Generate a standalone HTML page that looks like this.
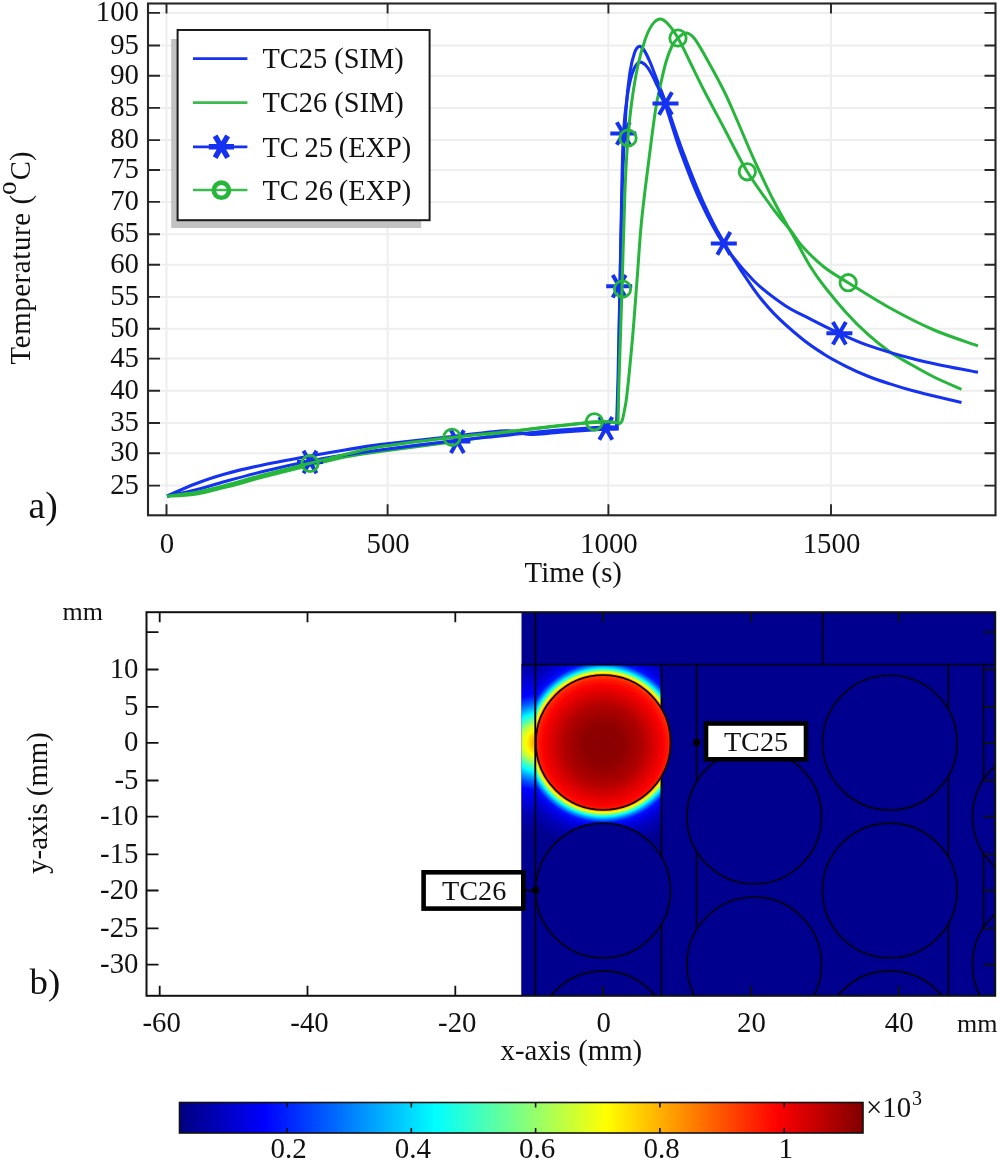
<!DOCTYPE html>
<html lang="en"><head><meta charset="utf-8"><title>Figure</title>
<style>html,body{margin:0;padding:0;background:#fff}svg{display:block}text{font-family:"Liberation Serif","Times New Roman",serif;fill:#111}</style></head><body>
<svg width="1000" height="1160" viewBox="0 0 1000 1160">
<rect width="1000" height="1160" fill="#fff"/>
<path d="M148.0 485.6H995.5M148.0 453.3H995.5M148.0 423.0H995.5M148.0 390.7H995.5M148.0 358.6H995.5M148.0 328.8H995.5M148.0 296.9H995.5M148.0 264.7H995.5M148.0 234.2H995.5M148.0 201.9H995.5M148.0 170.0H995.5M148.0 140.1H995.5M148.0 107.9H995.5M148.0 75.7H995.5M148.0 45.5H995.5M148.0 12.9H995.5M166.5 3.5V515.3M387.6 3.5V515.3M608.4 3.5V515.3M831.0 3.5V515.3" stroke="#eeeeee" stroke-width="2" fill="none"/>
<rect x="171.2" y="39" width="250" height="189" fill="#c2c2c2"/>
<rect x="177.6" y="30" width="252" height="190.2" fill="#fff" stroke="#1c1c1c" stroke-width="2"/>
<path d="M167.0 496.0C171.7 494.0 185.3 487.7 195.0 484.0C204.7 480.3 213.3 477.2 225.0 474.0C236.7 470.8 250.8 467.5 265.0 464.5C279.2 461.5 296.7 458.4 310.0 456.0C323.3 453.6 333.3 451.9 345.0 450.0C356.7 448.1 362.2 446.9 380.0 444.6C397.8 442.4 432.0 438.8 452.0 436.5C472.0 434.2 489.5 431.8 500.0 431.0C510.5 430.2 510.0 430.9 515.0 431.5C520.0 432.1 522.5 434.4 530.0 434.5C537.5 434.6 548.3 433.1 560.0 432.3C571.7 431.5 590.6 430.1 600.0 429.5C609.4 428.9 613.8 429.1 616.5 429.0C616.8 420.8 617.4 403.8 618.0 380.0C618.6 356.2 619.2 319.3 620.0 286.0C620.8 252.7 621.5 209.3 622.5 180.0C623.5 150.7 624.8 128.0 626.0 110.0C627.2 92.0 628.6 81.5 630.0 72.0C631.4 62.5 633.0 57.2 634.5 53.0C636.0 48.8 637.4 47.0 639.0 46.5C640.6 46.0 642.2 47.4 644.0 50.0C645.8 52.6 647.8 57.0 650.0 62.0C652.2 67.0 654.3 73.1 657.0 80.0C659.7 86.9 661.8 91.7 666.0 103.3C670.2 114.9 675.9 133.2 682.0 149.6C688.1 165.9 695.8 185.8 702.8 201.4C709.8 217.0 715.5 228.4 724.0 243.0C732.5 257.6 745.2 277.0 753.5 288.8C761.8 300.6 765.9 305.3 774.0 313.6C782.1 321.9 793.7 332.0 802.0 338.8C810.3 345.6 816.7 349.6 824.0 354.2C831.3 358.8 838.7 362.6 846.0 366.3C853.3 370.0 860.7 373.3 868.0 376.2C875.3 379.1 882.7 381.5 890.0 383.9C897.3 386.3 904.7 388.5 912.0 390.5C919.3 392.5 925.8 394.0 934.0 396.0C942.2 398.0 956.9 401.5 961.5 402.6" fill="none" stroke="#1432f0" stroke-width="3.1" stroke-linejoin="round" stroke-linecap="butt"/>
<path d="M167.0 496.3C171.7 496.0 185.3 495.8 195.0 494.3C204.7 492.8 213.3 490.3 225.0 487.4C236.7 484.4 250.8 480.3 265.0 476.6C279.2 472.9 296.7 468.6 310.0 465.3C323.3 462.0 333.3 459.3 345.0 457.0C356.7 454.7 362.2 454.0 380.0 451.5C397.8 449.0 432.0 444.8 452.0 442.0C472.0 439.2 488.7 436.4 500.0 434.5C511.3 432.6 510.0 432.0 520.0 430.5C530.0 429.0 547.5 426.9 560.0 425.6C572.5 424.3 586.3 423.1 595.0 422.5C603.7 421.9 608.0 422.1 612.0 422.3C616.0 422.6 617.8 423.7 619.0 424.0C619.5 423.5 621.1 423.3 622.0 421.0C622.9 418.7 623.7 414.5 624.5 410.0C625.3 405.5 625.6 406.2 627.0 394.0C628.4 381.8 630.9 355.9 632.6 337.0C634.3 318.1 635.5 299.4 637.0 280.5C638.5 261.6 639.5 242.5 641.3 223.6C643.1 204.7 645.6 185.7 648.0 166.8C650.4 147.9 653.4 123.6 655.5 110.0C657.6 96.4 658.8 93.0 660.5 85.0C662.2 77.0 664.1 68.5 666.0 62.0C667.9 55.5 670.0 50.0 672.0 46.0C674.0 42.0 675.7 40.2 678.0 38.0C680.3 35.8 683.3 33.0 686.0 33.0C688.7 33.0 691.0 34.5 694.0 38.0C697.0 41.5 699.1 45.3 704.0 54.0C708.9 62.7 718.0 79.0 723.5 90.0C729.0 101.0 732.0 108.6 737.0 120.0C742.0 131.4 747.3 144.7 753.5 158.3C759.7 171.9 767.3 188.4 774.2 201.8C781.1 215.2 789.0 228.3 795.0 239.0C801.0 249.7 805.2 258.2 810.0 266.0C814.8 273.8 818.0 278.3 824.0 286.0C830.0 293.7 838.7 304.3 846.0 312.4C853.3 320.5 860.7 327.8 868.0 334.4C875.3 341.0 882.7 346.9 890.0 352.0C897.3 357.1 904.7 360.8 912.0 365.0C919.3 369.2 925.8 372.9 934.0 377.0C942.2 381.1 956.9 387.3 961.5 389.4" fill="none" stroke="#27b63c" stroke-width="3.0" stroke-linejoin="round" stroke-linecap="butt"/>
<path d="M167.0 496.0C171.7 495.0 185.3 492.4 195.0 490.0C204.7 487.6 213.3 484.7 225.0 481.5C236.7 478.3 250.8 474.4 265.0 471.0C279.2 467.6 296.7 463.7 310.0 461.0C323.3 458.3 333.3 456.8 345.0 455.0C356.7 453.2 362.2 452.3 380.0 450.0C397.8 447.7 432.0 443.3 452.0 441.0C472.0 438.7 488.7 437.2 500.0 436.0C511.3 434.8 510.0 434.8 520.0 433.8C530.0 432.8 546.7 431.1 560.0 430.0C573.3 428.9 590.5 427.7 600.0 427.2C609.5 426.7 614.2 427.0 617.0 427.0C617.2 419.2 618.0 403.5 618.5 380.0C619.0 356.5 619.4 319.3 620.0 286.0C620.6 252.7 621.4 205.5 622.0 180.0C622.6 154.5 622.7 146.7 623.5 133.0C624.3 119.3 625.6 107.8 627.0 98.0C628.4 88.2 630.3 79.7 632.0 74.0C633.7 68.3 635.3 65.9 637.0 64.0C638.7 62.1 640.2 61.8 642.0 62.5C643.8 63.2 645.7 64.6 648.0 68.0C650.3 71.4 653.2 77.0 656.0 83.0C658.8 89.0 661.0 92.5 665.0 103.7C669.0 114.9 674.2 134.0 680.2 150.4C686.2 166.8 693.7 186.7 700.9 202.2C708.1 217.7 714.4 230.4 723.2 243.5C732.0 256.6 743.3 270.2 753.5 280.5C763.7 290.8 775.2 298.9 784.6 305.3C794.0 311.7 800.9 314.1 810.0 318.8C819.1 323.5 829.7 328.9 839.4 333.3C849.1 337.7 855.9 341.2 868.0 345.4C880.1 349.6 899.2 355.2 912.0 358.6C924.8 362.0 934.0 363.7 945.0 366.0C956.0 368.3 972.5 371.2 978.0 372.3" fill="none" stroke="#1432f0" stroke-width="3.1" stroke-linejoin="round" stroke-linecap="butt"/>
<path d="M297.0 462.0L323.0 462.0M303.5 450.7L316.5 473.3M316.5 450.7L303.5 473.3" stroke="#1432f0" stroke-width="4" fill="none"/>
<path d="M444.4 441.6L470.4 441.6M450.9 430.3L463.9 452.9M463.9 430.3L450.9 452.9" stroke="#1432f0" stroke-width="4" fill="none"/>
<path d="M592.8 428.4L618.8 428.4M599.3 417.1L612.3 439.7M612.3 417.1L599.3 439.7" stroke="#1432f0" stroke-width="4" fill="none"/>
<path d="M606.2 286.3L632.2 286.3M612.7 275.0L625.7 297.6M625.7 275.0L612.7 297.6" stroke="#1432f0" stroke-width="4" fill="none"/>
<path d="M610.3 133.5L636.3 133.5M616.8 122.2L629.8 144.8M629.8 122.2L616.8 144.8" stroke="#1432f0" stroke-width="4" fill="none"/>
<path d="M652.5 103.5L678.5 103.5M659.0 92.2L672.0 114.8M672.0 92.2L659.0 114.8" stroke="#1432f0" stroke-width="4" fill="none"/>
<path d="M710.8 243.4L736.8 243.4M717.3 232.1L730.3 254.7M730.3 232.1L717.3 254.7" stroke="#1432f0" stroke-width="4" fill="none"/>
<path d="M826.4 333.3L852.4 333.3M832.9 322.0L845.9 344.6M845.9 322.0L832.9 344.6" stroke="#1432f0" stroke-width="4" fill="none"/>
<path d="M167.0 496.0C171.7 495.4 185.3 494.3 195.0 492.5C204.7 490.7 213.3 488.4 225.0 485.4C236.7 482.4 250.8 478.2 265.0 474.5C279.2 470.8 296.7 466.5 310.0 463.2C323.3 459.9 333.3 457.2 345.0 454.5C356.7 451.8 362.2 449.7 380.0 446.8C397.8 443.9 432.0 439.8 452.0 437.4C472.0 435.0 488.7 433.6 500.0 432.4C511.3 431.2 510.0 431.3 520.0 430.2C530.0 429.1 547.6 427.2 560.0 425.8C572.4 424.4 586.1 422.5 594.4 421.8C602.7 421.1 606.1 421.6 610.0 421.8C613.9 422.0 616.7 422.8 618.0 423.0C618.2 415.8 618.3 402.3 619.0 380.0C619.7 357.7 621.0 320.7 622.0 289.0C623.0 257.3 624.0 215.2 625.0 190.0C626.0 164.8 626.8 153.0 628.0 138.0C629.2 123.0 630.3 112.2 632.0 100.0C633.7 87.8 635.8 75.0 638.0 65.0C640.2 55.0 642.7 46.7 645.0 40.0C647.3 33.3 649.5 28.5 652.0 25.0C654.5 21.5 657.3 19.2 660.0 19.0C662.7 18.8 665.0 20.8 668.0 24.0C671.0 27.2 674.3 31.7 678.0 38.0C681.7 44.3 685.7 53.3 690.0 62.0C694.3 70.7 698.0 78.7 703.8 90.0C709.6 101.3 717.8 116.4 725.0 130.0C732.2 143.6 739.1 158.5 747.3 171.8C755.5 185.1 766.7 200.1 774.0 210.0C781.3 219.9 786.3 225.0 791.0 231.0C795.7 237.0 796.5 240.0 802.0 246.0C807.5 252.0 816.3 260.9 824.0 267.0C831.7 273.1 837.2 275.9 848.2 282.7C859.2 289.5 875.7 300.1 890.0 308.0C904.3 315.9 919.3 323.7 934.0 330.0C948.7 336.3 970.7 343.2 978.0 345.9" fill="none" stroke="#27b63c" stroke-width="3.0" stroke-linejoin="round" stroke-linecap="butt"/>
<circle cx="310.0" cy="463.5" r="8.2" fill="none" stroke="#27b63c" stroke-width="2.8"/>
<circle cx="452.0" cy="437.3" r="8.2" fill="none" stroke="#27b63c" stroke-width="2.8"/>
<circle cx="594.4" cy="421.8" r="8.2" fill="none" stroke="#27b63c" stroke-width="2.8"/>
<circle cx="622.5" cy="289.0" r="8.2" fill="none" stroke="#27b63c" stroke-width="2.8"/>
<circle cx="628.0" cy="138.0" r="8.2" fill="none" stroke="#27b63c" stroke-width="2.8"/>
<circle cx="678.0" cy="38.0" r="8.2" fill="none" stroke="#27b63c" stroke-width="2.8"/>
<circle cx="747.3" cy="171.8" r="8.2" fill="none" stroke="#27b63c" stroke-width="2.8"/>
<circle cx="848.2" cy="282.7" r="8.2" fill="none" stroke="#27b63c" stroke-width="2.8"/>
<rect x="148" y="3.5" width="847.5" height="511.79999999999995" fill="none" stroke="#262626" stroke-width="2.1"/>
<path d="M148.0 485.6h12M995.5 485.6h-11M148.0 453.3h12M995.5 453.3h-11M148.0 423.0h12M995.5 423.0h-11M148.0 390.7h12M995.5 390.7h-11M148.0 358.6h12M995.5 358.6h-11M148.0 328.8h12M995.5 328.8h-11M148.0 296.9h12M995.5 296.9h-11M148.0 264.7h12M995.5 264.7h-11M148.0 234.2h12M995.5 234.2h-11M148.0 201.9h12M995.5 201.9h-11M148.0 170.0h12M995.5 170.0h-11M148.0 140.1h12M995.5 140.1h-11M148.0 107.9h12M995.5 107.9h-11M148.0 75.7h12M995.5 75.7h-11M148.0 45.5h12M995.5 45.5h-11M148.0 12.9h12M995.5 12.9h-11M166.5 3.5v10M166.5 515.3v-11M387.6 3.5v10M387.6 515.3v-11M608.4 3.5v10M608.4 515.3v-11M831.0 3.5v10M831.0 515.3v-11" stroke="#262626" stroke-width="1.9" fill="none"/>
<text x="139" y="493.7" font-size="28.8" text-anchor="end">25</text>
<text x="139" y="461.4" font-size="28.8" text-anchor="end">30</text>
<text x="139" y="431.1" font-size="28.8" text-anchor="end">35</text>
<text x="139" y="398.8" font-size="28.8" text-anchor="end">40</text>
<text x="139" y="366.7" font-size="28.8" text-anchor="end">45</text>
<text x="139" y="336.9" font-size="28.8" text-anchor="end">50</text>
<text x="139" y="305.0" font-size="28.8" text-anchor="end">55</text>
<text x="139" y="272.8" font-size="28.8" text-anchor="end">60</text>
<text x="139" y="242.3" font-size="28.8" text-anchor="end">65</text>
<text x="139" y="210.0" font-size="28.8" text-anchor="end">70</text>
<text x="139" y="178.1" font-size="28.8" text-anchor="end">75</text>
<text x="139" y="148.2" font-size="28.8" text-anchor="end">80</text>
<text x="139" y="116.0" font-size="28.8" text-anchor="end">85</text>
<text x="139" y="83.8" font-size="28.8" text-anchor="end">90</text>
<text x="139" y="53.6" font-size="28.8" text-anchor="end">95</text>
<text x="139" y="21.0" font-size="28.8" text-anchor="end">100</text>
<text x="167.0" y="552.8" font-size="28.8" text-anchor="middle">0</text>
<text x="388.1" y="552.8" font-size="28.8" text-anchor="middle">500</text>
<text x="608.9" y="552.8" font-size="28.8" text-anchor="middle">1000</text>
<text x="831.5" y="552.8" font-size="28.8" text-anchor="middle">1500</text>
<text x="573.3" y="582.2" font-size="28.8" text-anchor="middle">Time (s)</text>
<text x="28.5" y="518" font-size="37.5">a)</text>
<text transform="translate(30.2 364.5) rotate(-90)" font-size="28.8" textLength="169.5" lengthAdjust="spacing">Temperature (</text>
<text transform="translate(15.8 195) rotate(-90)" font-size="27">o</text>
<text transform="translate(30.2 180.2) rotate(-90)" font-size="28.8">C)</text>
<path d="M193 58.6H247.4M193 146.9H247.4" stroke="#1432f0" stroke-width="2.8"/>
<path d="M193 102.6H247.4M193 190H247.4" stroke="#3cbc4e" stroke-width="2.6"/>
<path d="M208.8 146.8L234.0 146.8M215.1 135.9L227.7 157.7M227.7 135.9L215.1 157.7" stroke="#1432f0" stroke-width="5.4" fill="none"/>
<circle cx="221.4" cy="190.2" r="7.6" fill="none" stroke="#27b63c" stroke-width="4.6"/>
<text x="262.5" y="68.2" font-size="28.4" word-spacing="0">TC25 (SIM)</text>
<text x="262.5" y="112.2" font-size="28.4" word-spacing="0">TC26 (SIM)</text>
<text x="262.5" y="156.5" font-size="28.4" word-spacing="-1.3">TC 25 (EXP)</text>
<text x="262.5" y="199.6" font-size="28.4" word-spacing="-1.3">TC 26 (EXP)</text>
<defs>
<clipPath id="cpl"><rect x="521.3" y="612.2" width="473.9000000000001" height="383.5999999999999"/></clipPath>
<clipPath id="cg1"><rect x="535.3" y="664.6" width="126.2" height="331.19999999999993"/></clipPath>
<clipPath id="cg2"><rect x="521.3" y="664.6" width="14" height="331.19999999999993"/></clipPath>
<radialGradient id="glow" gradientUnits="userSpaceOnUse" cx="603.2" cy="742.5" r="110"><stop offset="0.6000" stop-color="#ff5000"/><stop offset="0.6209" stop-color="#ffa000"/><stop offset="0.6364" stop-color="#ffff00"/><stop offset="0.6545" stop-color="#80ff80"/><stop offset="0.6727" stop-color="#00ffff"/><stop offset="0.6955" stop-color="#0090ff"/><stop offset="0.7273" stop-color="#0010ff"/><stop offset="0.7727" stop-color="#0000e4"/><stop offset="0.8455" stop-color="#0000b8"/><stop offset="0.9818" stop-color="#00008f"/></radialGradient>
<radialGradient id="glow2" gradientUnits="userSpaceOnUse" cx="548" cy="742.5" r="90" gradientTransform="translate(548 742.5) scale(1.333 1) translate(-548 -742.5)"><stop offset="0.0833" stop-color="#ff8000"/><stop offset="0.1333" stop-color="#ffc000"/><stop offset="0.1833" stop-color="#ffff00"/><stop offset="0.2333" stop-color="#c0ff40"/><stop offset="0.2833" stop-color="#60ffa0"/><stop offset="0.3433" stop-color="#00ffff"/><stop offset="0.4000" stop-color="#00a8ff"/><stop offset="0.4600" stop-color="#0058ff"/><stop offset="0.5467" stop-color="#0000ff"/><stop offset="0.6667" stop-color="#0000dc"/><stop offset="0.8000" stop-color="#0000b4"/><stop offset="1.0000" stop-color="#00008f"/></radialGradient>
<radialGradient id="hot" gradientUnits="userSpaceOnUse" cx="603.2" cy="745" r="69"><stop offset="0.0000" stop-color="#880000"/><stop offset="0.2899" stop-color="#8e0000"/><stop offset="0.5652" stop-color="#b00000"/><stop offset="0.7536" stop-color="#de0000"/><stop offset="0.8696" stop-color="#fb0000"/><stop offset="0.9420" stop-color="#ff1800"/><stop offset="1.0000" stop-color="#ff3c00"/></radialGradient>
<linearGradient id="jet" x1="0" x2="1" y1="0" y2="0">
<stop offset="0.000" stop-color="#000080"/>
<stop offset="0.025" stop-color="#000099"/>
<stop offset="0.050" stop-color="#0000b3"/>
<stop offset="0.075" stop-color="#0000cc"/>
<stop offset="0.100" stop-color="#0000e6"/>
<stop offset="0.125" stop-color="#0000ff"/>
<stop offset="0.150" stop-color="#001aff"/>
<stop offset="0.175" stop-color="#0033ff"/>
<stop offset="0.200" stop-color="#004dff"/>
<stop offset="0.225" stop-color="#0066ff"/>
<stop offset="0.250" stop-color="#0080ff"/>
<stop offset="0.275" stop-color="#0099ff"/>
<stop offset="0.300" stop-color="#00b3ff"/>
<stop offset="0.325" stop-color="#00ccff"/>
<stop offset="0.350" stop-color="#00e5ff"/>
<stop offset="0.375" stop-color="#00ffff"/>
<stop offset="0.400" stop-color="#1affe5"/>
<stop offset="0.425" stop-color="#33ffcc"/>
<stop offset="0.450" stop-color="#4dffb3"/>
<stop offset="0.475" stop-color="#66ff99"/>
<stop offset="0.500" stop-color="#80ff80"/>
<stop offset="0.525" stop-color="#99ff66"/>
<stop offset="0.550" stop-color="#b3ff4c"/>
<stop offset="0.575" stop-color="#ccff33"/>
<stop offset="0.600" stop-color="#e5ff1a"/>
<stop offset="0.625" stop-color="#ffff00"/>
<stop offset="0.650" stop-color="#ffe500"/>
<stop offset="0.675" stop-color="#ffcc00"/>
<stop offset="0.700" stop-color="#ffb300"/>
<stop offset="0.725" stop-color="#ff9900"/>
<stop offset="0.750" stop-color="#ff8000"/>
<stop offset="0.775" stop-color="#ff6600"/>
<stop offset="0.800" stop-color="#ff4c00"/>
<stop offset="0.825" stop-color="#ff3300"/>
<stop offset="0.850" stop-color="#ff1a00"/>
<stop offset="0.875" stop-color="#ff0000"/>
<stop offset="0.900" stop-color="#e50000"/>
<stop offset="0.925" stop-color="#cc0000"/>
<stop offset="0.950" stop-color="#b30000"/>
<stop offset="0.975" stop-color="#990000"/>
<stop offset="1.000" stop-color="#800000"/>
</linearGradient>
</defs>
<g clip-path="url(#cpl)">
<rect x="521.3" y="612.2" width="473.9000000000001" height="383.5999999999999" fill="#00008f"/>
<g clip-path="url(#cg1)"><circle cx="603.2" cy="742.5" r="110" fill="url(#glow)"/></g>
<g clip-path="url(#cg2)"><rect x="521" y="664.6" width="15" height="331.19999999999993" fill="url(#glow2)"/></g>
<path d="M521.3 664.6H995.2M535.3 612.2V995.8M661.5 664.6V995.8M696.7 664.6V995.8M822.7 612.2V664.6M948.3 664.6V995.8M983.6 664.6V995.8" stroke="#00001c" stroke-width="1.9" fill="none"/>
<circle cx="603.1" cy="890.5" r="67.3" fill="#00008f" stroke="#00001c" stroke-width="1.9"/>
<circle cx="603.1" cy="1038.3" r="67.3" fill="#00008f" stroke="#00001c" stroke-width="1.9"/>
<circle cx="754.2" cy="816.6" r="67.3" fill="#00008f" stroke="#00001c" stroke-width="1.9"/>
<circle cx="754.2" cy="964.4" r="67.3" fill="#00008f" stroke="#00001c" stroke-width="1.9"/>
<circle cx="889.8" cy="742.7" r="67.3" fill="#00008f" stroke="#00001c" stroke-width="1.9"/>
<circle cx="889.8" cy="890.5" r="67.3" fill="#00008f" stroke="#00001c" stroke-width="1.9"/>
<circle cx="889.8" cy="1038.3" r="67.3" fill="#00008f" stroke="#00001c" stroke-width="1.9"/>
<circle cx="1039.8" cy="816.6" r="67.3" fill="#00008f" stroke="#00001c" stroke-width="1.9"/>
<circle cx="1039.8" cy="964.4" r="67.3" fill="#00008f" stroke="#00001c" stroke-width="1.9"/>
<circle cx="603.2" cy="742.5" r="67.3" fill="url(#hot)" stroke="#180000" stroke-width="1.8"/>
</g>
<rect x="146.5" y="612.2" width="848.7" height="383.5999999999999" fill="none" stroke="#111" stroke-width="2"/>
<path d="M146.5 964.7h12M995.2 964.7h-12M146.5 928.4h12M995.2 928.4h-12M146.5 890.5h12M995.2 890.5h-12M146.5 854.3h12M995.2 854.3h-12M146.5 816.7h12M995.2 816.7h-12M146.5 780.5h12M995.2 780.5h-12M146.5 742.8h12M995.2 742.8h-12M146.5 706.9h12M995.2 706.9h-12M146.5 669.5h12M995.2 669.5h-12M146.5 632.2h12M995.2 632.2h-12M159.7 612.2v10M159.7 995.8v-10M307.5 612.2v10M307.5 995.8v-10M455.3 612.2v10M455.3 995.8v-10M603.1 612.2v10M603.1 995.8v-10M750.9 612.2v10M750.9 995.8v-10M898.7 612.2v10M898.7 995.8v-10" stroke="#111" stroke-width="1.8" fill="none"/>
<text x="138.5" y="972.9" font-size="28.8" text-anchor="end">-30</text>
<text x="138.5" y="936.6" font-size="28.8" text-anchor="end">-25</text>
<text x="138.5" y="898.7" font-size="28.8" text-anchor="end">-20</text>
<text x="138.5" y="862.5" font-size="28.8" text-anchor="end">-15</text>
<text x="138.5" y="824.9" font-size="28.8" text-anchor="end">-10</text>
<text x="138.5" y="788.7" font-size="28.8" text-anchor="end">-5</text>
<text x="138.5" y="751.0" font-size="28.8" text-anchor="end">0</text>
<text x="138.5" y="715.1" font-size="28.8" text-anchor="end">5</text>
<text x="138.5" y="677.7" font-size="28.8" text-anchor="end">10</text>
<text x="161.7" y="1031.6" font-size="28.8" text-anchor="middle">-60</text>
<text x="309.5" y="1031.6" font-size="28.8" text-anchor="middle">-40</text>
<text x="457.3" y="1031.6" font-size="28.8" text-anchor="middle">-20</text>
<text x="603.6" y="1031.6" font-size="28.8" text-anchor="middle">0</text>
<text x="751.4" y="1031.6" font-size="28.8" text-anchor="middle">20</text>
<text x="899.2" y="1031.6" font-size="28.8" text-anchor="middle">40</text>
<text x="62.5" y="620.3" font-size="26">mm</text>
<text x="957" y="1032" font-size="26">mm</text>
<text x="571.4" y="1060" font-size="28.8" text-anchor="middle">x-axis (mm)</text>
<text transform="translate(47.4 803) rotate(-90)" font-size="28.8" text-anchor="middle">y-axis (mm)</text>
<text x="29.5" y="993.8" font-size="36.8">b)</text>
<circle cx="696.6" cy="742.4" r="3.7" fill="#000"/>
<rect x="706" y="723.5" width="100" height="35.8" fill="#fff" stroke="#000" stroke-width="4.6"/>
<text x="756" y="750.6" font-size="28.2" text-anchor="middle">TC25</text>
<path d="M525 890.3H535" stroke="#000" stroke-width="1.8"/>
<circle cx="535.6" cy="890.3" r="3.7" fill="#000"/>
<rect x="423.6" y="872.3" width="99.7" height="36.3" fill="#fff" stroke="#000" stroke-width="4.6"/>
<text x="474.2" y="899.5" font-size="28.2" text-anchor="middle">TC26</text>
<rect x="179.5" y="1102.5" width="683.5" height="30.5" fill="url(#jet)" stroke="#111" stroke-width="1.6"/>
<text x="288.6" y="1157.8" font-size="29" text-anchor="middle">0.2</text>
<text x="412.9" y="1157.8" font-size="29" text-anchor="middle">0.4</text>
<text x="537.2" y="1157.8" font-size="29" text-anchor="middle">0.6</text>
<text x="661.5" y="1157.8" font-size="29" text-anchor="middle">0.8</text>
<text x="785.8" y="1157.8" font-size="29" text-anchor="middle">1</text>
<path d="M287.0 1102.5v5M287.0 1133v-5M411.3 1102.5v5M411.3 1133v-5M535.6 1102.5v5M535.6 1133v-5M659.9 1102.5v5M659.9 1133v-5M784.2 1102.5v5M784.2 1133v-5" stroke="#111" stroke-width="1.6" fill="none"/>
<text x="866" y="1117" font-size="28.8">×10</text>
<text x="912" y="1104.5" font-size="20">3</text>
</svg></body></html>
